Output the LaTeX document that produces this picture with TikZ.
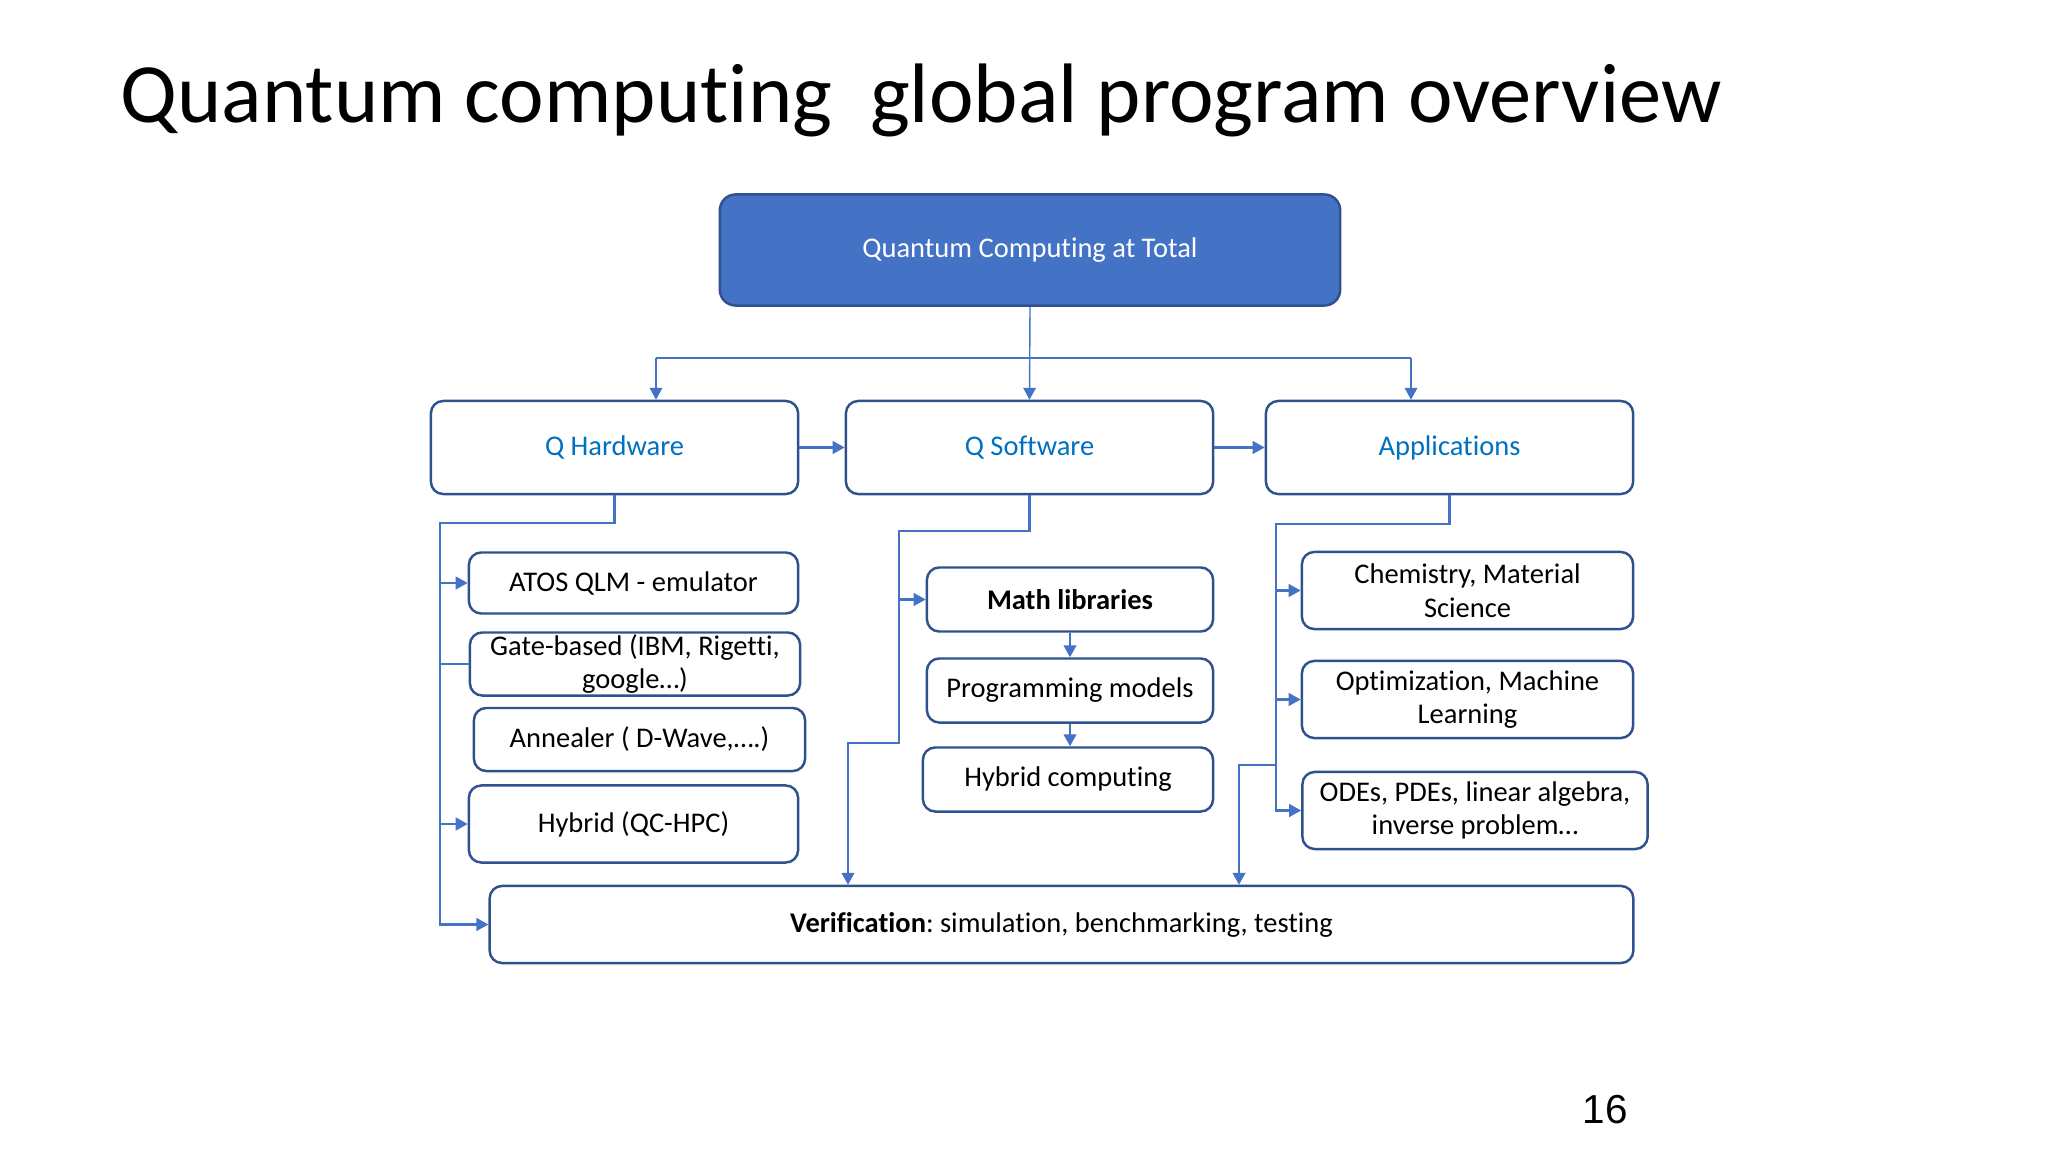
\documentclass[tikz,border=0pt]{standalone}
\usepackage{fontspec}
\setmainfont{Carlito}[Ligatures=NoCommon]
\newfontfamily\numfont{Liberation Sans}
\frenchspacing
\usetikzlibrary{arrows.meta}
\definecolor{ofblue}{HTML}{4472C4}
\definecolor{ofedge}{HTML}{2F528F}
\definecolor{headtxt}{HTML}{0070C0}
\tikzset{x=0.01cm, y=-0.01cm,
    box/.style={draw=ofedge, line width=0.7pt, rounded corners=3.5pt, fill=white,
        align=center, inner sep=0pt, font=\fontsize{8.1}{9.6}\selectfont},
    head/.style={box, minimum width=3.67cm, minimum height=0.93cm, text=headtxt},
    leaf/.style={box, minimum height=0.63cm},
    tip/.style={-{Triangle[length=3.4pt,width=3.6pt]}},
    link/.style={draw=ofblue, line width=0.6pt},
    thinlink/.style={draw=ofblue, line width=0.4pt},
    }

\begin{document}
\begin{tikzpicture}
\useasboundingbox[fill=white] (0,0) rectangle (2048,1152);
\node[anchor=base west, inner sep=0pt, font=\fontsize{24}{28}\selectfont] (title) at (120,123)
    {Quantum computing \ global program overview};
\node[anchor=base west, inner sep=0pt, font=\numfont\fontsize{11.5}{13}\selectfont] (pageno) at (1582,1123) {16};
% top
\node[box, fill=ofblue, text=white, rounded corners=4.5pt, minimum width=6.2cm, minimum height=1.11cm] (top) at (1030,250) {Quantum Computing at Total};
\node[head] (hw) at (614.5,447.5) {Q Hardware};
\node[head] (sw) at (1029.5,447.5) {Q Software};
\node[head] (app) at (1449.5,447.5) {Applications};
% hardware column
\node[leaf, minimum width=3.29cm, minimum height=0.61cm] (atos) at (633.5,583) {ATOS QLM - emulator};
\node[leaf, minimum width=3.30cm] (gate) at (635,664) {Gate-based (IBM, Rigetti,\\google\dots)};
\node[leaf, minimum width=3.31cm] (anneal) at (639.5,739.5) {Annealer ( D-Wave,\dots.)};
\node[leaf, minimum width=3.29cm, minimum height=0.77cm] (hyb) at (633.5,824) {Hybrid (QC-HPC)};
% software column
\node[leaf, minimum width=2.86cm, minimum height=0.64cm] (math) at (1070,599.5) {\textbf{Math libraries}};
\node[leaf, minimum width=2.86cm, minimum height=0.64cm] (prog) at (1070,690.5) {Programming models};
\node[leaf, minimum width=2.90cm, minimum height=0.64cm] (hybc) at (1068,779.5) {Hybrid computing};
% applications column
\node[leaf, minimum width=3.31cm, minimum height=0.77cm] (chem) at (1467.5,590.5) {Chemistry, Material\\Science};
\node[leaf, minimum width=3.31cm, minimum height=0.77cm] (opt) at (1467.5,699.5) {Optimization, Machine\\Learning};
\node[leaf, minimum width=3.45cm, minimum height=0.77cm] (ode) at (1475,810.5) {ODEs, PDEs, linear algebra,\\inverse problem\dots};
\node[leaf, minimum width=11.43cm, minimum height=0.77cm] (verif) at (1061.5,924.5) {\textbf{Verification}: simulation, benchmarking, testing};
% bus points
\coordinate (split) at (1030,358);
\coordinate (hwdrop) at (656,358);
\coordinate (apdrop) at (1411,358);
\coordinate (hwbus) at (440,523);
\coordinate (swbus) at (899,531);
\coordinate (swdrop) at (848,743);
\coordinate (apbus) at (1276,524);
\coordinate (apfork) at (1239,765);
% top split
\draw[thinlink, tip] (top.south) -- (sw.north);
\draw[thinlink] (hwdrop) -- (apdrop);
\draw[thinlink, tip] (hwdrop) -- (hwdrop |- hw.north);
\draw[thinlink, tip] (apdrop) -- (apdrop |- app.north);
\draw[link, tip] (hw) -- (sw);
\draw[link, tip] (sw) -- (app);
% hardware
\draw[link, tip] (hw.south) |- (hwbus) |- (verif.west);
\draw[link, tip] (hwbus |- atos.west) -- (atos.west);
\draw[link] (hwbus |- gate.west) -- (gate.west);
\draw[link, tip] (hwbus |- hyb.west) -- (hyb.west);
% software
\draw[link, tip] (sw.south) |- (swbus) |- (swdrop) -- (swdrop |- verif.north);
\draw[link, tip] (swbus |- math.west) -- (math.west);
\draw[link, tip] (math) -- (prog);
\draw[link, tip] (prog.south) -- (prog.south |- hybc.north);
% applications
\draw[link, tip] (app.south) |- (apbus) |- (ode.west);
\draw[link, tip] (apbus |- chem.west) -- (chem.west);
\draw[link, tip] (apbus |- opt.west) -- (opt.west);
\draw[link, tip] (apbus |- apfork) -| (apfork |- verif.north);
\end{tikzpicture}
\end{document}
